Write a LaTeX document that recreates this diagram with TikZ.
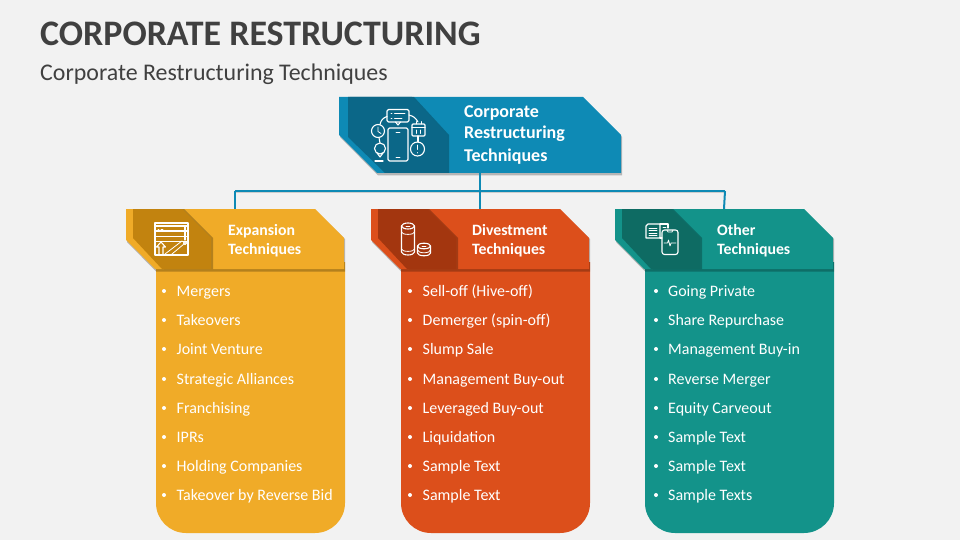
\documentclass[tikz,border=0pt]{standalone}
\usepackage{fontspec}
\setmainfont{Carlito}
\definecolor{pagebg}{HTML}{F2F2F2}
\definecolor{inkgrey}{HTML}{404040}
\definecolor{blueA}{HTML}{0E8AB5}
\definecolor{blueB}{HTML}{0B6788}
\definecolor{orangeA}{HTML}{F0AB28}
\definecolor{orangeB}{HTML}{C2830F}
\definecolor{redA}{HTML}{DC4F1B}
\definecolor{redB}{HTML}{A3360F}
\definecolor{tealA}{HTML}{13938A}
\definecolor{tealB}{HTML}{0E6B63}
\tikzset{
  x=1pt,y=-1pt,
  connector/.style={draw=blueA,line width=2pt},
  shadowfill/.style={fill=black,fill opacity=.25},
  itemtext/.style={anchor=base west,text=white,font=\fontsize{16}{16}\selectfont,inner sep=0pt},
  headtext/.style={anchor=base west,text=white,font=\fontsize{15.8}{15.8}\selectfont\bfseries,inner sep=0pt},
  icon/.style={draw=white,line width=1.1pt,line cap=round,line join=round},
  iconthin/.style={draw=white,line width=.8pt,line cap=round},
}
% #1 shift x, #2 light colour, #3 dark colour, #4 name
\newcommand{\colblock}[4]{%
\begin{scope}[xshift=#1pt]
  \fill[#2] (156,262) -- (345,262) -- (345,503) arc[start angle=0,end angle=90,radius=30] -- (186,533) arc[start angle=90,end angle=180,radius=30] -- cycle;
  \fill[shadowfill] (127,211) -- (316,211) -- (345,239) -- (345,271.5) -- (156,271.5) -- (127,242) -- cycle;
  \fill[#2] (126,209) -- (315,209) -- (344,238) -- (344,269) -- (155,269) -- (126,240) -- cycle;
  \fill[shadowfill] (184,209) -- (213,238) -- (213,269) -- (164,269) -- (135,238) -- (135,209) -- cycle;
  \fill[#3] (133,209) -- (182,209) -- (211,238) -- (211,269) -- (162,269) -- (133,238) -- cycle;
  \coordinate (#4) at (235,209);
\end{scope}}
\newcommand{\items}[3]{% text x, bullet x
  \foreach \ty/\tx [count=\ti] in {#3}{%
    \fill[white] (#2,\ty) circle[radius=2];
    \node[itemtext] (#1\ti) at (#1,\ty+5) {\tx};
  }}
\begin{document}
\begin{tikzpicture}
\useasboundingbox (0,0) rectangle (960,540);
\fill[pagebg] (0,0) rectangle (960,540);
% title
\node[anchor=base west,inner sep=0pt,text=inkgrey,font=\bfseries\fontsize{35.9}{35.9}\selectfont] (title) at (40,46) {CORPORATE RESTRUCTURING};
\node[anchor=base west,inner sep=0pt,text=inkgrey,font=\fontsize{23.9}{23.9}\selectfont] (subtitle) at (40,81) {Corporate Restructuring Techniques};
% blocks
\colblock{0}{orangeA}{orangeB}{expTop}
\colblock{245}{redA}{redB}{divTop}
\colblock{489}{tealA}{tealB}{othTop}
% top box
\fill[shadowfill] (340,99) -- (584,99) -- (622,137) -- (622,175.5) -- (378,175.5) -- (340,137) -- cycle;
\fill[blueA] (339,97) -- (583,97) -- (621,135) -- (621,173) -- (377,173) -- (339,135) -- cycle;
\fill[shadowfill] (414,97) -- (449,135) -- (449,173) -- (387,173) -- (350,137) -- (350,97) -- cycle;
\fill[blueB] (348,97) -- (412,97) -- (447,135) -- (447,173) -- (385,173) -- (348,137) -- cycle;
\coordinate (topB) at (480,173);
\coordinate (hub) at (480,191);
\coordinate (hubL) at (235,191);
\coordinate (hubR) at (725,191);
\coordinate (hubD) at (480,209);
% connectors
\draw[black,opacity=.15,line width=1pt] ([yshift=-1.5pt]hubL) -- ([yshift=-1.5pt]hubR);
\draw[connector] (topB) -- (hubD);
\draw[connector] (hubL) -- (hubR);
\draw[connector] (hubL) -- (expTop);
\draw[connector] (hubR) -- (othTop);
% top text
\node[headtext,font=\fontsize{18}{18}\selectfont\bfseries] (t1) at (464,118) {Corporate};
\node[headtext,font=\fontsize{18}{18}\selectfont\bfseries] (t2) at (464,139) {Restructuring};
\node[headtext,font=\fontsize{18}{18}\selectfont\bfseries] (t3) at (464,161) {Techniques};
% head text
\node[headtext] (e1) at (228,235) {Expansion};
\node[headtext] (e2) at (228,254) {Techniques};
\node[headtext] (d1) at (472,235) {Divestment};
\node[headtext] (d2) at (472,254) {Techniques};
\node[headtext] (o1) at (717,235) {Other};
\node[headtext] (o2) at (717,254) {Techniques};
% lists
\items{176.5}{164}{291/Mergers,320/Takeovers,349/Joint Venture,379/Strategic Alliances,408/Franchising,437/IPRs,466/Holding Companies,495/Takeover by Reverse Bid}
\items{422.5}{410}{291/Sell-off (Hive-off),320/Demerger (spin-off),349/Slump Sale,379/Management Buy-out,408/Leveraged Buy-out,437/Liquidation,466/Sample Text,495/Sample Text}
\items{668}{656}{291/Going Private,320/Share Repurchase,349/Management Buy-in,379/Reverse Merger,408/Equity Carveout,437/Sample Text,466/Sample Text,495/Sample Texts}
% icon: top
\begin{scope}[icon]
  \draw[rounded corners=1.5] (387,109.5) rectangle (409,122);
  \draw (395.5,122) -- (398,125) -- (400.5,122);
  \draw[iconthin] (391,113.5) -- (392,113.5) (394.5,113.5) -- (405,113.5) (391,118) -- (392,118) (394.5,118) -- (402,118);
  \draw[rounded corners=1.5] (388,128) rectangle (408,161);
  \draw[iconthin] (396,132) -- (400,132) (396,157) -- (400,157);
  \draw (378,131) circle[radius=6.5];
  \draw[iconthin] (378,127) -- (378,131.5) -- (381,133.5);
  \draw (380,124.5) .. controls (381,120) and (383,118) .. (387,116.5);
  \draw (409,115) .. controls (413,116) and (416,118) .. (418,122);
  \draw[rounded corners=1] (412,124) rectangle (425,136);
  \draw (412,127.5) -- (425,127.5);
  \draw[iconthin] (416,121.5) -- (416,124) (421,121.5) -- (421,124);
  \draw[iconthin] (416.5,130) -- (416.5,133.5) (420.5,130) -- (420.5,133.5);
  \draw (417.5,149) circle[radius=7];
  \draw[iconthin] (417.5,145) -- (417.5,149.5) (417.5,152.5) -- (417.5,153);
  \draw (380,148.5) circle[radius=5.5];
  \draw (377,153) -- (380,157) -- (383,153);
  \draw (375,161) -- (383,161);
  \draw (379,137.5) -- (380,143);
  \draw (418,136) -- (418,142);
\end{scope}
% icon: expansion
\begin{scope}[icon]
  \draw (155,223) rectangle (188,255);
  \draw (155,226) -- (188,226) (155,231) -- (188,231);
  \draw[iconthin] (155,236) -- (188,236) (155,241) -- (188,241);
  \draw[iconthin] (158,229) -- (159,229) (161,229) -- (163,229);
  \draw (185,226) -- (185,240);
  \draw (185,243) circle[radius=1.5];
  \draw[iconthin] (165,254) -- (182,241) (172,254) -- (184,244);
  \draw (159,254) -- (159,247) -- (156.5,247) -- (161,242) -- (165.5,247) -- (163,247) -- (163,254);
\end{scope}
% icon: divestment
\begin{scope}[icon]
  \draw (408,226) ellipse[x radius=6.5,y radius=3];
  \draw (401.5,226) -- (401.5,252) arc[start angle=180,end angle=0,x radius=6.5,y radius=3] -- (414.5,226);
  \draw[iconthin] (401.5,232) arc[start angle=180,end angle=0,x radius=6.5,y radius=2.4] (401.5,249) arc[start angle=180,end angle=0,x radius=6.5,y radius=2.4];
  \draw[iconthin] (406,226) -- (410,226);
  \draw (424,246) ellipse[x radius=6.5,y radius=2.8];
  \draw (417.5,246) -- (417.5,253) arc[start angle=180,end angle=0,x radius=6.5,y radius=2.8] -- (430.5,253) -- (430.5,246);
  \draw[iconthin] (417.5,250) arc[start angle=180,end angle=0,x radius=6.5,y radius=2.8];
  \draw[iconthin] (422,246) -- (426,246);
\end{scope}
% icon: other
\begin{scope}[icon]
  \draw (646,226) -- (646,238) -- (660,238) -- (660,224) -- (648,224) -- (646,226);
  \draw (660,224) -- (668,224) -- (668,228);
  \draw[iconthin] (649,228) -- (657,228) (649,230.5) -- (657,230.5) (649,233) -- (657,233) (649,235.5) -- (657,235.5);
  \draw[iconthin] (663,227) -- (666,227);
  \draw (660,238) -- (662,238);
  \draw[rounded corners=2.5] (662,230) rectangle (678,254.5);
  \draw[iconthin] (667,230) -- (668,232) -- (672,232) -- (673,230);
  \draw[iconthin] (664,243) -- (667.5,243) -- (668.5,240) -- (670,246) -- (671,243) -- (676,243);
\end{scope}
\end{tikzpicture}
\end{document}
